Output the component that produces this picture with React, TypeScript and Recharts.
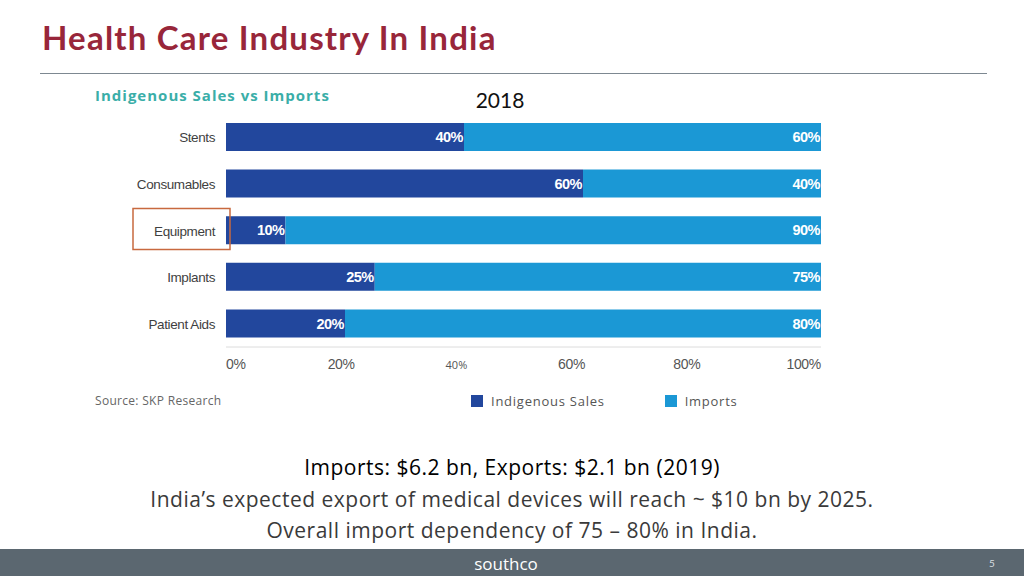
import React from "react";
import { BarChart, Bar, XAxis, YAxis, LabelList } from "recharts";

// Share of each device segment, 2018 (percent)
const categories = ["Stents", "Consumables", "Equipment", "Implants", "Patient Aids"];
const indigenousSales = [40, 60, 10, 25, 20];
const imports = [60, 40, 90, 75, 80];
const percentTicks = [0, 20, 40, 60, 80, 100];
const highlighted = "Equipment";

const DARK_BLUE = "#22479d";
const LIGHT_BLUE = "#1b98d5";
const CALIBRI = "Lato, 'Open Sans', sans-serif";
const ARIAL = "'Liberation Sans', Arial, sans-serif";
const SEGOE = "'Open Sans', 'Noto Sans', sans-serif";

const rows = categories.map((category, i) => ({
  category,
  indigenous: indigenousSales[i],
  imports: imports[i],
}));

const pct = (v: unknown) => `${v}%`;

function CategoryTick(props: any) {
  const { x, y, payload } = props;
  const boxed = payload.value === highlighted;
  return (
    <g>
      {boxed && (
        <rect
          x={x - 82}
          y={y - 22}
          width={97}
          height={41}
          fill="none"
          stroke="#c8693f"
          strokeWidth={1.5}
        />
      )}
      <text
        x={x}
        y={y}
        dy={5}
        textAnchor="end"
        fontFamily={ARIAL}
        fontSize={13.5}
        letterSpacing={-0.4}
        fill="#3f3f3f"
      >
        {payload.value}
      </text>
    </g>
  );
}

function PercentTick(props: any) {
  const { x, y, payload } = props;
  const v = payload.value as number;
  const anchor = v === 0 ? "start" : v === 100 ? "end" : "middle";
  const odd = v === 40;
  return (
    <text
      x={x}
      y={y}
      dx={anchor === "middle" ? -v * 0.19 : 0}
      dy={14}
      textAnchor={anchor}
      fontFamily={odd ? SEGOE : ARIAL}
      fontSize={odd ? 11 : 14}
      letterSpacing={odd ? 0 : -0.3}
      fill="#555"
    >
      {pct(v)}
    </text>
  );
}

const legendItems = [
  { label: "Indigenous Sales", color: DARK_BLUE },
  { label: "Imports", color: LIGHT_BLUE },
];

function ChartLegend() {
  return (
    <div
      style={{
        position: "absolute",
        left: 471,
        top: 392,
        display: "flex",
        alignItems: "center",
      }}
    >
      {legendItems.map((it) => (
        <div
          key={it.label}
          style={{ display: "flex", alignItems: "center", marginRight: 60 }}
        >
          <span
            style={{
              width: 12,
              height: 12,
              background: it.color,
              display: "inline-block",
              marginRight: 8,
            }}
          />
          <span
            style={{
              fontFamily: SEGOE,
              fontSize: 13,
              letterSpacing: 0.75,
              color: "#555",
            }}
          >
            {it.label}
          </span>
        </div>
      ))}
    </div>
  );
}

const barLabelStyle = {
  fill: "#fff",
  fontFamily: ARIAL,
  fontWeight: 700,
  fontSize: 14.5,
  letterSpacing: -0.5,
};

export default function App() {
  return (
    <div
      style={{
        position: "absolute",
        left: 0,
        top: 0,
        width: 1024,
        height: 576,
        background: "#fff",
        overflow: "hidden",
      }}
    >
      <div
        style={{
          position: "absolute",
          left: 42,
          top: 17,
          fontFamily: CALIBRI,
          fontWeight: 700,
          fontSize: 33,
          letterSpacing: 1.2,
          color: "#98263a",
          whiteSpace: "nowrap",
        }}
      >
        Health Care Industry In India
      </div>
      <div
        style={{
          position: "absolute",
          left: 40,
          top: 73,
          width: 947,
          height: 1,
          background: "#7d8891",
        }}
      />
      <div
        style={{
          position: "absolute",
          left: 95,
          top: 85,
          fontFamily: SEGOE,
          fontWeight: 700,
          fontSize: 15,
          letterSpacing: 1,
          color: "#3aaea8",
          whiteSpace: "nowrap",
        }}
      >
        Indigenous Sales vs Imports
      </div>
      <div
        style={{
          position: "absolute",
          left: 0,
          width: 1000,
          top: 87,
          textAlign: "center",
          fontFamily: CALIBRI,
          fontSize: 21,
          color: "#111",
        }}
      >
        2018
      </div>

      <div style={{ position: "absolute", left: 0, top: 0 }}>
        <BarChart
          width={1024}
          height={576}
          data={rows}
          layout="vertical"
          margin={{ top: 114, right: 203, bottom: 199, left: 0 }}
          barSize={28}
        >
          <XAxis
            type="number"
            domain={[0, 100]}
            ticks={percentTicks}
            tick={<PercentTick />}
            tickLine={false}
            axisLine={{ stroke: "#dcdcdc" }}
            height={30}
            interval={0}
          />
          <YAxis
            type="category"
            dataKey="category"
            width={226}
            tick={<CategoryTick />}
            tickLine={false}
            axisLine={false}
            tickSize={0}
            tickMargin={11}
          />
          <Bar
            dataKey="indigenous"
            name="Indigenous Sales"
            stackId="share"
            fill={DARK_BLUE}
            isAnimationActive={false}
          >
            <LabelList
              dataKey="indigenous"
              position="insideRight"
              offset={1}
              formatter={pct}
              style={barLabelStyle}
            />
          </Bar>
          <Bar
            dataKey="imports"
            name="Imports"
            stackId="share"
            fill={LIGHT_BLUE}
            isAnimationActive={false}
          >
            <LabelList
              dataKey="imports"
              position="insideRight"
              offset={1}
              formatter={pct}
              style={barLabelStyle}
            />
          </Bar>
        </BarChart>
      </div>

      <ChartLegend />

      <div
        style={{
          position: "absolute",
          left: 95,
          top: 392,
          fontFamily: SEGOE,
          fontSize: 12,
          letterSpacing: 0.3,
          color: "#666",
          whiteSpace: "nowrap",
        }}
      >
        Source: SKP Research
      </div>

      <div
        style={{
          position: "absolute",
          left: 0,
          width: 1024,
          top: 452,
          textAlign: "center",
          fontFamily: SEGOE,
          fontSize: 21,
          lineHeight: "31.5px",
          letterSpacing: 0.5,
          whiteSpace: "nowrap",
        }}
      >
        <div style={{ color: "#000" }}>
          Imports: $6.2 bn, Exports: $2.1 bn (2019)
        </div>
        <div style={{ color: "#3a3a3a" }}>
          India’s expected export of medical devices will reach ~ $10 bn by 2025.
        </div>
        <div style={{ color: "#3a3a3a" }}>
          Overall import dependency of 75 – 80% in India.
        </div>
      </div>

      <div
        style={{
          position: "absolute",
          left: 0,
          top: 549,
          width: 1024,
          height: 27,
          background: "#5b6770",
        }}
      >
        <div
          style={{
            position: "absolute",
            left: 0,
            width: 1012,
            top: 3,
            textAlign: "center",
            fontFamily: SEGOE,
            fontSize: 17,
            color: "#fff",
          }}
        >
          southco
        </div>
        <div
          style={{
            position: "absolute",
            left: 989,
            top: 8,
            fontFamily: CALIBRI,
            fontSize: 10,
            color: "#d8dde0",
          }}
        >
          5
        </div>
      </div>
    </div>
  );
}
